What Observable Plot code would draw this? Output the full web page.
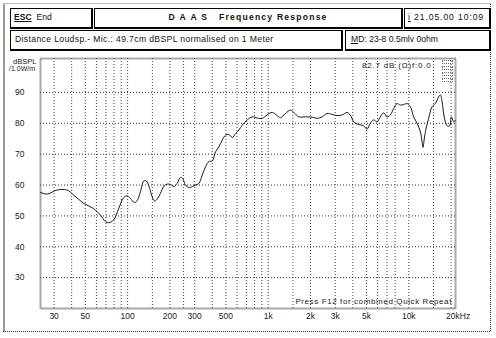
<!DOCTYPE html>
<html><head><meta charset="utf-8">
<script src="https://cdn.jsdelivr.net/npm/d3@7"></script>
<script src="https://cdn.jsdelivr.net/npm/@observablehq/plot@0.6"></script>
<style>
html,body{margin:0;padding:0;background:#fff;}
#wrap{position:relative;width:496px;height:338px;overflow:hidden;font-family:"Liberation Sans",Arial,sans-serif;color:#111;}
#chart{position:absolute;left:0;top:0;}
.box{position:absolute;box-sizing:border-box;border:1px solid #000;border-right-width:2px;border-bottom-width:2px;font-size:8.6px;line-height:17px;white-space:nowrap;background:#fff;}
.t{position:absolute;white-space:nowrap;font-size:8px;line-height:1;color:#222;}
.hl{position:absolute;background:#999;}
.dotH{position:absolute;height:1px;background:repeating-linear-gradient(90deg,#333 0 1px,transparent 1px 2px);}
.dotV{position:absolute;width:1px;background:repeating-linear-gradient(180deg,#333 0 1px,transparent 1px 2px);}
.leg{position:absolute;left:442px;top:60px;width:11px;}
.leg div{height:4px;margin-bottom:2px;border:1px dotted #666;box-sizing:border-box;}
</style></head><body>
<div id="wrap">
  <div id="chart"></div>
  <div class="hl" style="left:3px;top:3px;width:2px;height:329px;"></div>
  <div class="hl" style="left:3px;top:3px;width:488px;height:1px;background:#bbb"></div>
  <div class="dotV" style="left:490px;top:4px;height:328px;"></div>
  <div class="dotH" style="left:3px;top:331px;width:488px;"></div>

  <div class="box" style="left:10px;top:8px;width:83px;height:21px;padding-left:3px;"><b style="text-decoration:underline">ESC</b>&nbsp;&nbsp;End</div>
  <div class="box" style="left:94px;top:8px;width:309px;height:21px;text-align:center;font-weight:bold;letter-spacing:1.2px;">D&nbsp;A&nbsp;A&nbsp;S&nbsp;&nbsp;&nbsp;Frequency Response</div>
  <div class="box" style="left:404px;top:8px;width:87px;height:21px;padding-left:3px;letter-spacing:0.9px;"><u>i</u> 21.05.00 10:09</div>
  <div class="box" style="left:10px;top:30px;width:333px;height:21px;padding-left:4px;letter-spacing:0.37px;">Distance Loudsp.- Mic.: 49.7cm dBSPL normalised on 1 Meter</div>
  <div class="box" style="left:345px;top:30px;width:146px;height:21px;padding-left:5px;"><u>M</u>D: 23-8 0.5mlv 0ohm</div>

  <div class="t" style="left:13px;top:58px;font-size:7.5px;">dBSPL</div>
  <div class="t" style="left:9px;top:65px;font-size:7px;">/1.0W/m</div>
  <div class="t" style="left:362px;top:62px;letter-spacing:0.8px;">82.7 dB (Ω)f:0.0</div>
  <div class="leg"><div></div><div></div><div></div><div></div></div>
  <div class="t" style="right:44px;top:298px;letter-spacing:0.6px;">Press F12 for combined Quick Repeat</div>
</div>
<script>
// Measured frequency response (Hz, dBSPL)
const freq = [24, 26.1, 27.5, 29.6, 31.5, 37, 41.2, 48.6, 57.2, 64, 69.6, 73.4, 79.6, 86.4, 93.6, 99, 104.5, 112.1, 117.7, 125.1, 129.9, 136, 143.6, 149.4, 156, 163.8, 171.2, 180.7, 191.1, 201.6, 212.8, 225, 237.8, 247, 258.2, 272.6, 288.2, 304.2, 321, 339.4, 358.3, 378.2, 399.9, 422.4, 445.9, 471.5, 497.7, 525.3, 555.4, 586.2, 618.8, 654.3, 709.9, 770.3, 835.9, 907, 984, 1068, 1159, 1223, 1327, 1440, 1521, 1651, 1842, 2055, 2229, 2419, 2625, 2848, 3091, 3354, 3639, 3840, 4054, 4399, 4773, 5046, 5327, 5623, 5945, 6277, 6626, 7006, 7395, 7806, 8253, 8712, 9197, 9724, 10264, 10834, 11455, 12092, 12434, 12640, 12765, 13126, 13855, 14649, 15462, 16322, 16783, 17257, 17716, 18217, 18732, 19546, 20097, 20866, 21500];
const spl = [57.6, 57.1, 57.2, 57.9, 58.4, 58.4, 56.8, 54.1, 52.4, 50.3, 48.1, 47.8, 48.7, 52.4, 55.9, 56.5, 55.7, 54.3, 55.2, 58.9, 61.3, 61.3, 58.9, 56.2, 54.8, 55.7, 57.3, 59.5, 60.3, 60.2, 59.5, 60.5, 62.5, 62.0, 60.0, 59.2, 59.5, 60.0, 60.5, 63.2, 65.9, 67.6, 67.8, 70.8, 72.4, 74.6, 76.2, 76.4, 75.4, 76.7, 77.8, 79.4, 81.1, 82.1, 81.7, 81.6, 82.8, 83.5, 82.5, 81.8, 83.2, 84.3, 83.5, 82.1, 82.1, 82.0, 81.6, 82.1, 83.2, 82.9, 82.5, 82.7, 83.5, 82.7, 80.5, 79.6, 79.2, 78.1, 80.0, 81.1, 80.5, 82.1, 83.4, 82.1, 82.7, 84.8, 86.4, 85.9, 86.1, 86.4, 85.4, 82.1, 80.0, 77.3, 74.0, 72.2, 73.5, 77.3, 81.6, 85.4, 86.4, 88.6, 89.2, 87.0, 83.0, 80.5, 79.2, 79.2, 82.1, 80.5, 81.0];

const gridFreq = [30, 40, 50, 60, 70, 80, 90, 100, 150, 200, 250, 300, 400, 500, 600, 700, 800, 900, 1000, 1500, 2000, 3000, 4000, 5000, 6000, 7000, 8000, 10000, 15000, 20000];
const yTicks = [30, 40, 50, 60, 70, 80, 90];
const xTicks = [30, 50, 100, 200, 300, 500, 1000, 2000, 3000, 5000, 10000];
const xLabels = ["30", "50", "100", "200", "300", "500", "1k", "2k", "3k", "5k", "10k"];
const lastTick = [20000];
const lastLabel = "20kHz";

const data = freq.map((f, i) => ({f, db: spl[i]}));
const labelMap = new Map(xTicks.map((t, i) => [t, xLabels[i]]));

const chart = Plot.plot({
  width: 496,
  height: 338,
  marginLeft: 40,
  marginRight: 41,
  marginTop: 58,
  marginBottom: 30,
  x: {type: "log", domain: [24, 21500], axis: null},
  y: {domain: [20, 101]},
  style: {fontFamily: "Liberation Sans, Arial, sans-serif", fontSize: "8.5px", color: "#222", background: "transparent"},
  marks: [
    Plot.ruleY(yTicks, {stroke: "#333", strokeDasharray: "1,2", strokeWidth: 1}),
    Plot.ruleX(gridFreq, {stroke: "#444", strokeDasharray: "1,2", strokeWidth: 1}),
    Plot.frame({stroke: "#555", strokeWidth: 2, strokeDasharray: "1,1"}),
    Plot.line(data, {x: "f", y: "db", stroke: "#1a1a1a", strokeWidth: 1, curve: "catmull-rom"}),
    Plot.axisY(yTicks, {tickSize: 0, tickPadding: 16, label: null}),
    Plot.text(xTicks, {x: d => d, text: d => labelMap.get(d), frameAnchor: "bottom", lineAnchor: "top", dy: 4, fill: "#222"}),
    Plot.text(lastTick, {x: d => d, text: () => lastLabel, frameAnchor: "bottom", lineAnchor: "top", dy: 4, dx: -5, textAnchor: "start", fill: "#222"})
  ]
});
document.getElementById("chart").appendChild(chart);
</script>
</body></html>
